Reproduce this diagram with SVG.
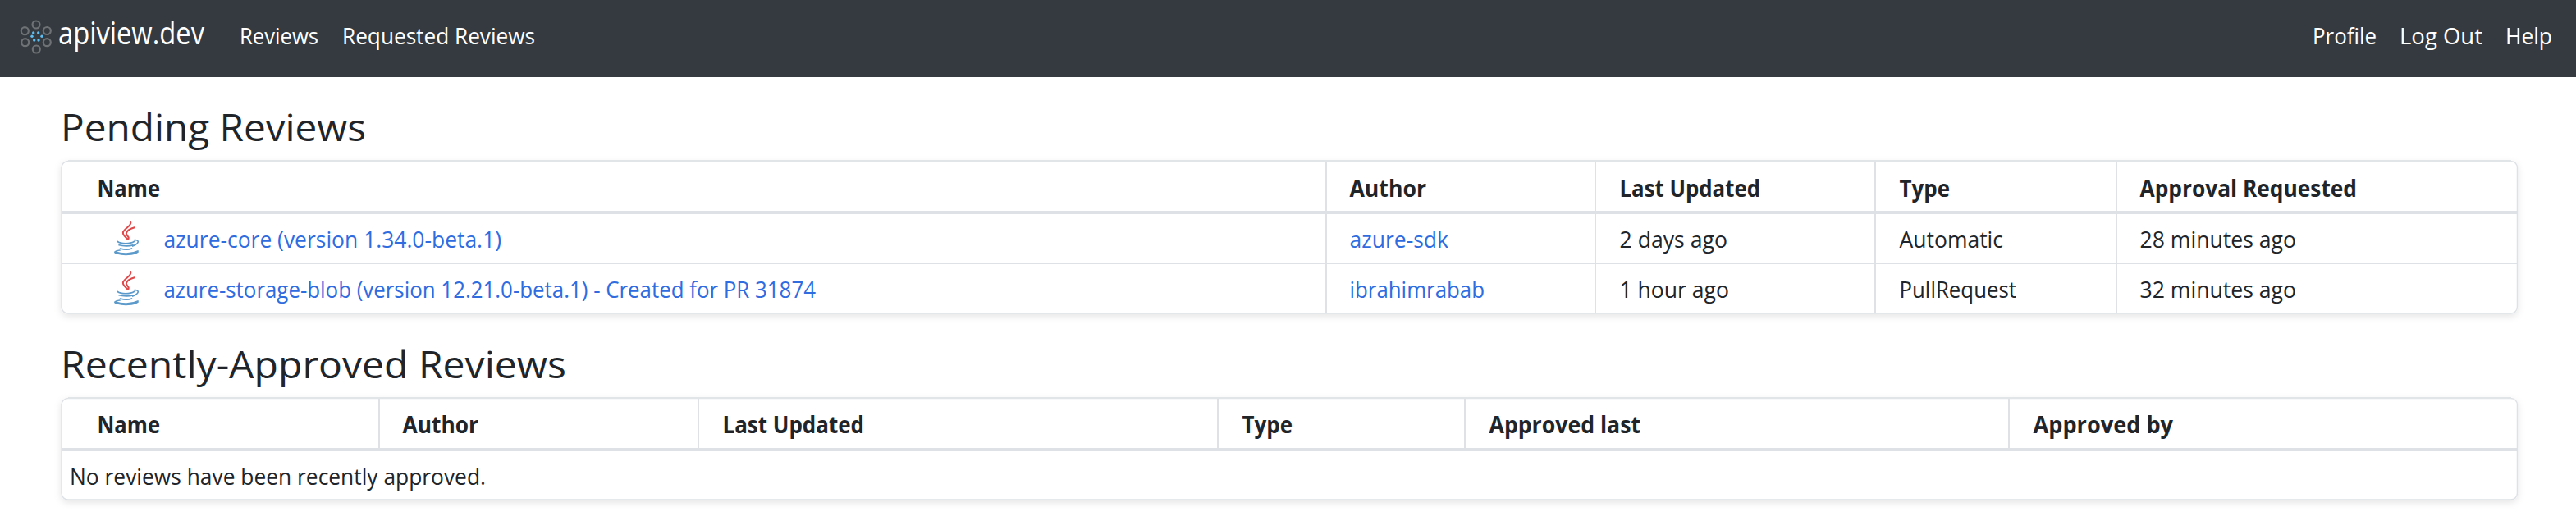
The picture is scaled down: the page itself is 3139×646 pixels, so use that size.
<svg xmlns="http://www.w3.org/2000/svg" xmlns:xlink="http://www.w3.org/1999/xlink" width="3139" height="646" viewBox="0 0 3139 646">
<style>
text{font-family:"Open Sans","Noto Sans","Liberation Sans",sans-serif;font-size:28px;fill:#212529}
.nav{fill:#fff}
.brand{fill:#fff;font-size:38px}
.th{font-weight:700}
.a{fill:#2f6ce0}
.h{font-size:46px}
.card{fill:#fff;stroke:#dee2e6;stroke-width:1.5;filter:url(#sh)}
.l{stroke:#dee2e6;stroke-width:2}
.tl{stroke:#dee2e6;stroke-width:4}
.top{stroke:#e2e5e8;stroke-width:2}
.ring{fill:none;stroke:#6f7275;stroke-width:2.2}
.dot{fill:#5fbdf0}
.flame{fill:none;stroke:#de4a4c;stroke-width:2;stroke-linecap:round}
.cup{fill:none;stroke:#5b9acb;stroke-width:1.7;stroke-linecap:round}
</style>
<defs>
<filter id="sh" x="-2%" y="-10%" width="104%" height="125%"><feDropShadow dx="0" dy="3" stdDeviation="4" flood-color="#000" flood-opacity="0.1"/></filter>
<g id="java">
<path class="flame" d="M159.300 270C161 277 148 279 150 285C151 288 154 290 155.700 291.700M164 277.300C155 280 152 284 155 287C157 289 157 290 156.700 291"/>
<path class="cup" d="M143.300 294.500C147 297.500 159 297.500 163.300 294.500M145 298.800C150 300.300 158 300.300 162 298.800M146.500 303C151 304.300 157 304.300 160.500 303M164 292.700C170 292 170 297 161.700 300M146 305C139 306 138 308 143 309C150 311 163 311 168 307M141 307C148 310 160 310 168 306"/>
</g>
</defs>
<rect width="3139" height="646" fill="#fff"/>
<g id="navbar">
<rect width="3139" height="94" fill="#343a40"/>
<g id="logo">
<circle class="ring" cx="44" cy="30" r="4.500"/><circle class="ring" cx="57.300" cy="37.500" r="4.500"/><circle class="ring" cx="57.300" cy="51.700" r="4.500"/><circle class="ring" cx="44.300" cy="60" r="4.500"/><circle class="ring" cx="30.700" cy="51.700" r="4.500"/><circle class="ring" cx="30.300" cy="37.700" r="4.500"/>
<circle class="dot" cx="40.700" cy="40" r="1.700"/><circle class="dot" cx="46.700" cy="40" r="1.700"/><circle class="dot" cx="39" cy="44.300" r="1.700"/><circle class="dot" cx="51" cy="44.300" r="1.700"/><circle class="dot" cx="41.700" cy="49" r="1.700"/><circle class="dot" cx="47" cy="49" r="1.700"/>
</g>
<text class="brand" x="71" y="54" textLength="178" lengthAdjust="spacingAndGlyphs">apiview.dev</text>
<text class="nav" x="292" y="54" textLength="96" lengthAdjust="spacingAndGlyphs">Reviews</text>
<text class="nav" x="417" y="54" textLength="235" lengthAdjust="spacingAndGlyphs">Requested Reviews</text>
<text class="nav" x="2818" y="54" textLength="78" lengthAdjust="spacingAndGlyphs">Profile</text>
<text class="nav" x="2924" y="54" textLength="101" lengthAdjust="spacingAndGlyphs">Log Out</text>
<text class="nav" x="3053" y="54" textLength="57" lengthAdjust="spacingAndGlyphs">Help</text>
</g>
<text id="pending-title" class="h" x="74" y="172" textLength="372" lengthAdjust="spacingAndGlyphs">Pending Reviews</text>
<g id="pending-table">
<rect class="card" x="75" y="196.500" width="2992.500" height="185.500" rx="8"/>
<line class="top" x1="83" y1="196" x2="3060" y2="196"/>
<line class="l" x1="1616" y1="197" x2="1616" y2="381"/><line class="l" x1="1944" y1="197" x2="1944" y2="381"/><line class="l" x1="2285" y1="197" x2="2285" y2="381"/><line class="l" x1="2579" y1="197" x2="2579" y2="381"/>
<line class="tl" x1="76" y1="259" x2="3067" y2="259"/>
<line class="l" x1="76" y1="321" x2="3067" y2="321"/>
<text class="th" x="118.500" y="240" textLength="76.500" lengthAdjust="spacingAndGlyphs">Name</text>
<text class="th" x="1644.500" y="240" textLength="93.500" lengthAdjust="spacingAndGlyphs">Author</text>
<text class="th" x="1973.500" y="240" textLength="171.500" lengthAdjust="spacingAndGlyphs">Last Updated</text>
<text class="th" x="2314.500" y="240" textLength="61.500" lengthAdjust="spacingAndGlyphs">Type</text>
<text class="th" x="2607.500" y="240" textLength="264.500" lengthAdjust="spacingAndGlyphs">Approval Requested</text>
<use xlink:href="#java" href="#java"/>
<text class="a" x="199.500" y="302" textLength="411.500" lengthAdjust="spacingAndGlyphs">azure-core (version 1.34.0-beta.1)</text>
<text class="a" x="1644.500" y="302" textLength="120.500" lengthAdjust="spacingAndGlyphs">azure-sdk</text>
<text x="1973.500" y="302" textLength="131.500" lengthAdjust="spacingAndGlyphs">2 days ago</text>
<text x="2314.500" y="302" textLength="126.500" lengthAdjust="spacingAndGlyphs">Automatic</text>
<text x="2607.500" y="302" textLength="190.500" lengthAdjust="spacingAndGlyphs">28 minutes ago</text>
<use xlink:href="#java" href="#java" y="61"/>
<text class="a" x="199.500" y="363" textLength="794.500" lengthAdjust="spacingAndGlyphs">azure-storage-blob (version 12.21.0-beta.1) - Created for PR 31874</text>
<text class="a" x="1644.500" y="363" textLength="164.500" lengthAdjust="spacingAndGlyphs">ibrahimrabab</text>
<text x="1973.500" y="363" textLength="133.500" lengthAdjust="spacingAndGlyphs">1 hour ago</text>
<text x="2314.500" y="363" textLength="142.500" lengthAdjust="spacingAndGlyphs">PullRequest</text>
<text x="2607.500" y="363" textLength="190.500" lengthAdjust="spacingAndGlyphs">32 minutes ago</text>
</g>
<text id="approved-title" class="h" x="74" y="461" textLength="616" lengthAdjust="spacingAndGlyphs">Recently-Approved Reviews</text>
<g id="approved-table">
<rect class="card" x="75" y="485.500" width="2992.500" height="123.500" rx="8"/>
<line class="top" x1="83" y1="485" x2="3060" y2="485"/>
<line class="l" x1="462" y1="486" x2="462" y2="546"/><line class="l" x1="851" y1="486" x2="851" y2="546"/><line class="l" x1="1484" y1="486" x2="1484" y2="546"/><line class="l" x1="1785" y1="486" x2="1785" y2="546"/><line class="l" x1="2448" y1="486" x2="2448" y2="546"/>
<line class="tl" x1="76" y1="548" x2="3067" y2="548"/>
<text class="th" x="118.500" y="528" textLength="76.500" lengthAdjust="spacingAndGlyphs">Name</text>
<text class="th" x="490.500" y="528" textLength="92.500" lengthAdjust="spacingAndGlyphs">Author</text>
<text class="th" x="880.500" y="528" textLength="172.500" lengthAdjust="spacingAndGlyphs">Last Updated</text>
<text class="th" x="1513.500" y="528" textLength="61.500" lengthAdjust="spacingAndGlyphs">Type</text>
<text class="th" x="1814.500" y="528" textLength="184.500" lengthAdjust="spacingAndGlyphs">Approved last</text>
<text class="th" x="2477.500" y="528" textLength="170.500" lengthAdjust="spacingAndGlyphs">Approved by</text>
<text x="85" y="590.500" textLength="507" lengthAdjust="spacingAndGlyphs">No reviews have been recently approved.</text>
</g>
</svg>
